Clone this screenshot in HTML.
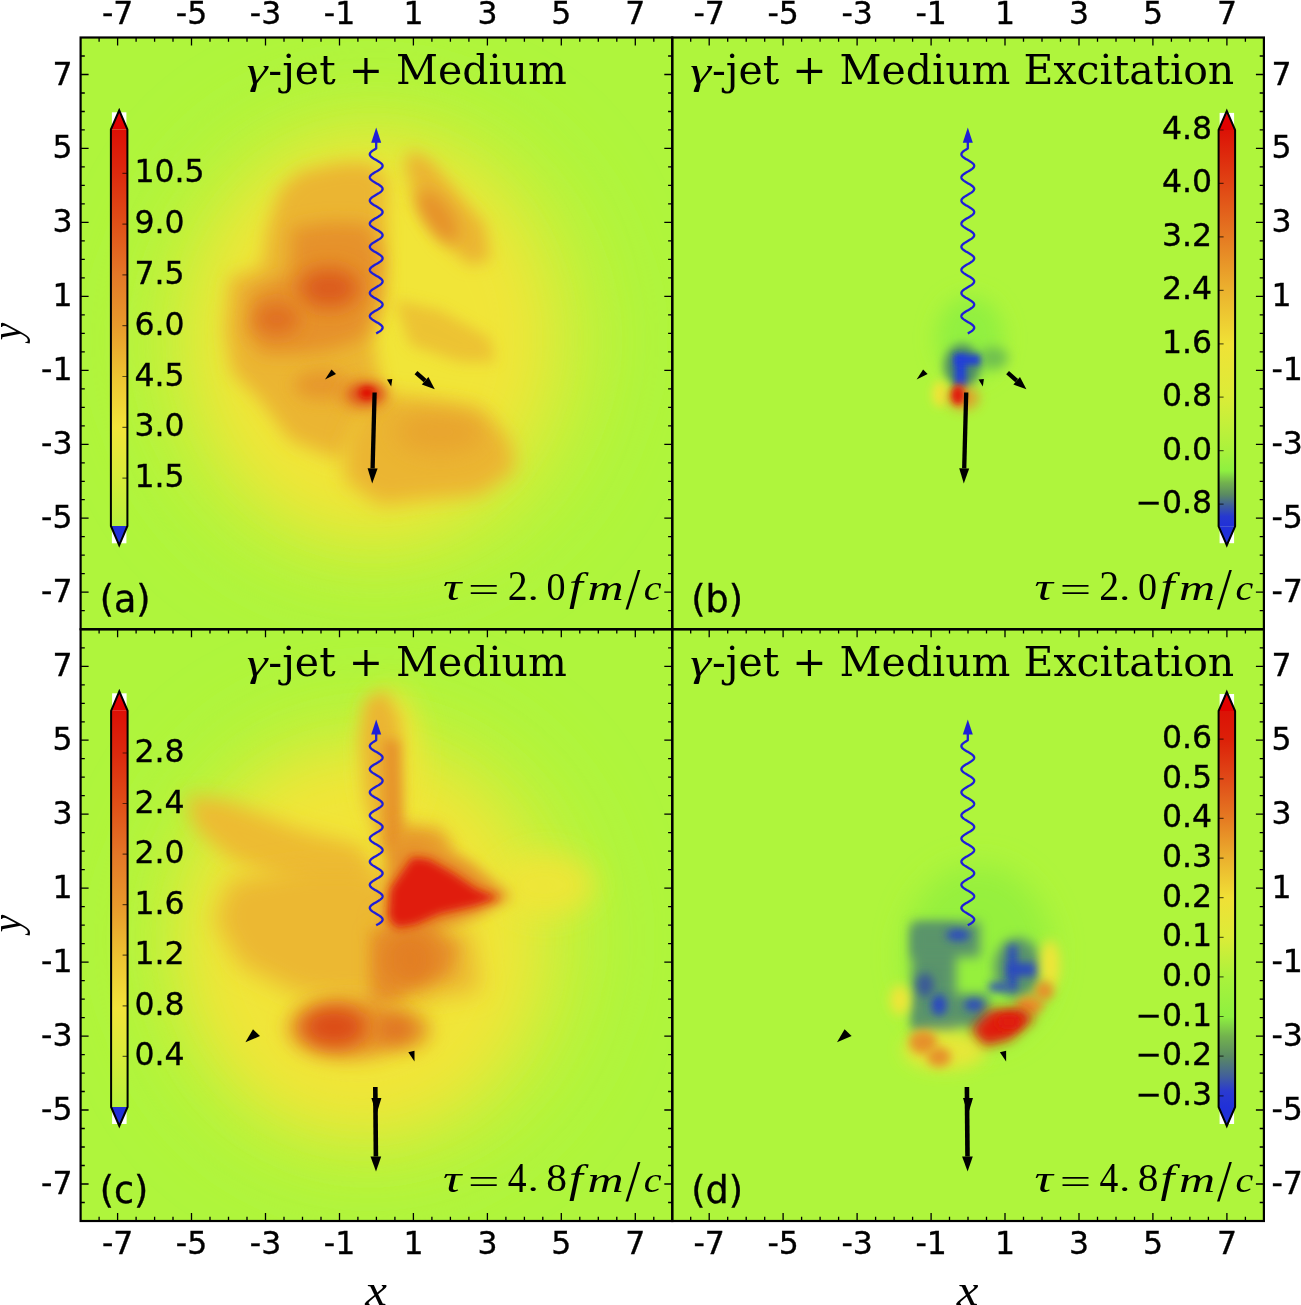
<!DOCTYPE html><html><head><meta charset="utf-8"><style>
html,body{margin:0;padding:0;background:#fff;}
svg{display:block;}
.tk{font-family:"DejaVu Sans","Liberation Sans",sans-serif;font-size:31.5px;fill:#000;stroke:#000;stroke-width:0.35px;}
.ser{font-family:"DejaVu Serif","Liberation Serif",serif;fill:#000;}
.lser{font-family:"Liberation Serif","DejaVu Serif",serif;fill:#000;}
</style></head><body>
<svg width="1301" height="1305" viewBox="0 0 1301 1305">
<rect x="0" y="0" width="1301" height="1305" fill="#fff"/>
<defs>
<clipPath id="clipa"><rect x="80.6" y="37.5" width="591.7" height="591.7"/></clipPath>
<clipPath id="clipb"><rect x="672.2" y="37.5" width="591.7" height="591.7"/></clipPath>
<clipPath id="clipc"><rect x="80.6" y="629.3" width="591.7" height="591.7"/></clipPath>
<clipPath id="clipd"><rect x="672.2" y="629.3" width="591.7" height="591.7"/></clipPath>
<filter id="b1" filterUnits="userSpaceOnUse" x="0" y="0" width="1301" height="1305"><feGaussianBlur stdDeviation="1"/></filter>
<filter id="b2" filterUnits="userSpaceOnUse" x="0" y="0" width="1301" height="1305"><feGaussianBlur stdDeviation="2"/></filter>
<filter id="b3" filterUnits="userSpaceOnUse" x="0" y="0" width="1301" height="1305"><feGaussianBlur stdDeviation="3"/></filter>
<filter id="b4" filterUnits="userSpaceOnUse" x="0" y="0" width="1301" height="1305"><feGaussianBlur stdDeviation="4"/></filter>
<filter id="b5" filterUnits="userSpaceOnUse" x="0" y="0" width="1301" height="1305"><feGaussianBlur stdDeviation="5"/></filter>
<filter id="b6" filterUnits="userSpaceOnUse" x="0" y="0" width="1301" height="1305"><feGaussianBlur stdDeviation="6"/></filter>
<filter id="b7" filterUnits="userSpaceOnUse" x="0" y="0" width="1301" height="1305"><feGaussianBlur stdDeviation="7"/></filter>
<filter id="b8" filterUnits="userSpaceOnUse" x="0" y="0" width="1301" height="1305"><feGaussianBlur stdDeviation="8"/></filter>
<filter id="b9" filterUnits="userSpaceOnUse" x="0" y="0" width="1301" height="1305"><feGaussianBlur stdDeviation="9"/></filter>
<filter id="b10" filterUnits="userSpaceOnUse" x="0" y="0" width="1301" height="1305"><feGaussianBlur stdDeviation="10"/></filter>
<filter id="b11" filterUnits="userSpaceOnUse" x="0" y="0" width="1301" height="1305"><feGaussianBlur stdDeviation="11"/></filter>
<filter id="b12" filterUnits="userSpaceOnUse" x="0" y="0" width="1301" height="1305"><feGaussianBlur stdDeviation="12"/></filter>
<filter id="b13" filterUnits="userSpaceOnUse" x="0" y="0" width="1301" height="1305"><feGaussianBlur stdDeviation="13"/></filter>
<filter id="b14" filterUnits="userSpaceOnUse" x="0" y="0" width="1301" height="1305"><feGaussianBlur stdDeviation="14"/></filter>
<filter id="b15" filterUnits="userSpaceOnUse" x="0" y="0" width="1301" height="1305"><feGaussianBlur stdDeviation="15"/></filter>
<filter id="b16" filterUnits="userSpaceOnUse" x="0" y="0" width="1301" height="1305"><feGaussianBlur stdDeviation="16"/></filter>
<filter id="b17" filterUnits="userSpaceOnUse" x="0" y="0" width="1301" height="1305"><feGaussianBlur stdDeviation="17"/></filter>
<filter id="b18" filterUnits="userSpaceOnUse" x="0" y="0" width="1301" height="1305"><feGaussianBlur stdDeviation="18"/></filter>
<filter id="b19" filterUnits="userSpaceOnUse" x="0" y="0" width="1301" height="1305"><feGaussianBlur stdDeviation="19"/></filter>
<filter id="b20" filterUnits="userSpaceOnUse" x="0" y="0" width="1301" height="1305"><feGaussianBlur stdDeviation="20"/></filter>
<filter id="b21" filterUnits="userSpaceOnUse" x="0" y="0" width="1301" height="1305"><feGaussianBlur stdDeviation="21"/></filter>
<filter id="b22" filterUnits="userSpaceOnUse" x="0" y="0" width="1301" height="1305"><feGaussianBlur stdDeviation="22"/></filter>
<filter id="b23" filterUnits="userSpaceOnUse" x="0" y="0" width="1301" height="1305"><feGaussianBlur stdDeviation="23"/></filter>
<filter id="b24" filterUnits="userSpaceOnUse" x="0" y="0" width="1301" height="1305"><feGaussianBlur stdDeviation="24"/></filter>
<filter id="b25" filterUnits="userSpaceOnUse" x="0" y="0" width="1301" height="1305"><feGaussianBlur stdDeviation="25"/></filter>
<filter id="b26" filterUnits="userSpaceOnUse" x="0" y="0" width="1301" height="1305"><feGaussianBlur stdDeviation="26"/></filter>
<filter id="b27" filterUnits="userSpaceOnUse" x="0" y="0" width="1301" height="1305"><feGaussianBlur stdDeviation="27"/></filter>
<filter id="b28" filterUnits="userSpaceOnUse" x="0" y="0" width="1301" height="1305"><feGaussianBlur stdDeviation="28"/></filter>
<filter id="b29" filterUnits="userSpaceOnUse" x="0" y="0" width="1301" height="1305"><feGaussianBlur stdDeviation="29"/></filter>
<filter id="b30" filterUnits="userSpaceOnUse" x="0" y="0" width="1301" height="1305"><feGaussianBlur stdDeviation="30"/></filter>
<filter id="b31" filterUnits="userSpaceOnUse" x="0" y="0" width="1301" height="1305"><feGaussianBlur stdDeviation="31"/></filter>
<filter id="b32" filterUnits="userSpaceOnUse" x="0" y="0" width="1301" height="1305"><feGaussianBlur stdDeviation="32"/></filter>
<filter id="b33" filterUnits="userSpaceOnUse" x="0" y="0" width="1301" height="1305"><feGaussianBlur stdDeviation="33"/></filter>
<filter id="b34" filterUnits="userSpaceOnUse" x="0" y="0" width="1301" height="1305"><feGaussianBlur stdDeviation="34"/></filter>
<filter id="b35" filterUnits="userSpaceOnUse" x="0" y="0" width="1301" height="1305"><feGaussianBlur stdDeviation="35"/></filter>
<filter id="b36" filterUnits="userSpaceOnUse" x="0" y="0" width="1301" height="1305"><feGaussianBlur stdDeviation="36"/></filter>
<filter id="b37" filterUnits="userSpaceOnUse" x="0" y="0" width="1301" height="1305"><feGaussianBlur stdDeviation="37"/></filter>
<filter id="b38" filterUnits="userSpaceOnUse" x="0" y="0" width="1301" height="1305"><feGaussianBlur stdDeviation="38"/></filter>
<filter id="b39" filterUnits="userSpaceOnUse" x="0" y="0" width="1301" height="1305"><feGaussianBlur stdDeviation="39"/></filter>
<filter id="b40" filterUnits="userSpaceOnUse" x="0" y="0" width="1301" height="1305"><feGaussianBlur stdDeviation="40"/></filter>
<filter id="b41" filterUnits="userSpaceOnUse" x="0" y="0" width="1301" height="1305"><feGaussianBlur stdDeviation="41"/></filter>
<filter id="b42" filterUnits="userSpaceOnUse" x="0" y="0" width="1301" height="1305"><feGaussianBlur stdDeviation="42"/></filter>
<filter id="b43" filterUnits="userSpaceOnUse" x="0" y="0" width="1301" height="1305"><feGaussianBlur stdDeviation="43"/></filter>
<filter id="b44" filterUnits="userSpaceOnUse" x="0" y="0" width="1301" height="1305"><feGaussianBlur stdDeviation="44"/></filter>
<filter id="b45" filterUnits="userSpaceOnUse" x="0" y="0" width="1301" height="1305"><feGaussianBlur stdDeviation="45"/></filter>
<filter id="b46" filterUnits="userSpaceOnUse" x="0" y="0" width="1301" height="1305"><feGaussianBlur stdDeviation="46"/></filter>
<filter id="b47" filterUnits="userSpaceOnUse" x="0" y="0" width="1301" height="1305"><feGaussianBlur stdDeviation="47"/></filter>
<filter id="b48" filterUnits="userSpaceOnUse" x="0" y="0" width="1301" height="1305"><feGaussianBlur stdDeviation="48"/></filter>
<filter id="b49" filterUnits="userSpaceOnUse" x="0" y="0" width="1301" height="1305"><feGaussianBlur stdDeviation="49"/></filter>
<filter id="b50" filterUnits="userSpaceOnUse" x="0" y="0" width="1301" height="1305"><feGaussianBlur stdDeviation="50"/></filter>
<filter id="b51" filterUnits="userSpaceOnUse" x="0" y="0" width="1301" height="1305"><feGaussianBlur stdDeviation="51"/></filter>
<filter id="b52" filterUnits="userSpaceOnUse" x="0" y="0" width="1301" height="1305"><feGaussianBlur stdDeviation="52"/></filter>
<filter id="b53" filterUnits="userSpaceOnUse" x="0" y="0" width="1301" height="1305"><feGaussianBlur stdDeviation="53"/></filter>
<filter id="b54" filterUnits="userSpaceOnUse" x="0" y="0" width="1301" height="1305"><feGaussianBlur stdDeviation="54"/></filter>
<filter id="b55" filterUnits="userSpaceOnUse" x="0" y="0" width="1301" height="1305"><feGaussianBlur stdDeviation="55"/></filter>
<filter id="b56" filterUnits="userSpaceOnUse" x="0" y="0" width="1301" height="1305"><feGaussianBlur stdDeviation="56"/></filter>
<filter id="b57" filterUnits="userSpaceOnUse" x="0" y="0" width="1301" height="1305"><feGaussianBlur stdDeviation="57"/></filter>
<filter id="b58" filterUnits="userSpaceOnUse" x="0" y="0" width="1301" height="1305"><feGaussianBlur stdDeviation="58"/></filter>
<filter id="b59" filterUnits="userSpaceOnUse" x="0" y="0" width="1301" height="1305"><feGaussianBlur stdDeviation="59"/></filter>
<filter id="b60" filterUnits="userSpaceOnUse" x="0" y="0" width="1301" height="1305"><feGaussianBlur stdDeviation="60"/></filter>
<linearGradient id="cbA" x1="0" y1="0" x2="0" y2="1"><stop offset="0" stop-color="#dc1006"/><stop offset="0.11" stop-color="#dc2a0e"/><stop offset="0.238" stop-color="#e05018"/><stop offset="0.366" stop-color="#e47828"/><stop offset="0.494" stop-color="#e89a2c"/><stop offset="0.623" stop-color="#eec432"/><stop offset="0.751" stop-color="#f2e43a"/><stop offset="0.879" stop-color="#d6ec3a"/><stop offset="1" stop-color="#b8f03c"/></linearGradient>
<linearGradient id="cbB" x1="0" y1="0" x2="0" y2="1"><stop offset="0" stop-color="#dc1206"/><stop offset="0.135" stop-color="#e04414"/><stop offset="0.27" stop-color="#e57a22"/><stop offset="0.4" stop-color="#ebb02e"/><stop offset="0.54" stop-color="#f0e236"/><stop offset="0.67" stop-color="#dcec38"/><stop offset="0.74" stop-color="#c4f03a"/><stop offset="0.808" stop-color="#aaf23c"/><stop offset="0.86" stop-color="#8ef040"/><stop offset="0.89" stop-color="#72b24e"/><stop offset="0.92" stop-color="#5a8a62"/><stop offset="0.95" stop-color="#3c5aa0"/><stop offset="0.975" stop-color="#2638d0"/><stop offset="1" stop-color="#2030d8"/></linearGradient>
<linearGradient id="cbC" x1="0" y1="0" x2="0" y2="1"><stop offset="0" stop-color="#dc1006"/><stop offset="0.11" stop-color="#dc2a0e"/><stop offset="0.238" stop-color="#e05018"/><stop offset="0.366" stop-color="#e47828"/><stop offset="0.494" stop-color="#e89a2c"/><stop offset="0.623" stop-color="#eec432"/><stop offset="0.751" stop-color="#f2e43a"/><stop offset="0.879" stop-color="#d6ec3a"/><stop offset="1" stop-color="#b8f03c"/></linearGradient>
<linearGradient id="cbD" x1="0" y1="0" x2="0" y2="1"><stop offset="0" stop-color="#dc1206"/><stop offset="0.071" stop-color="#dc2008"/><stop offset="0.171" stop-color="#e04a18"/><stop offset="0.271" stop-color="#e57a22"/><stop offset="0.371" stop-color="#ebb02e"/><stop offset="0.471" stop-color="#f0e036"/><stop offset="0.571" stop-color="#dcec38"/><stop offset="0.672" stop-color="#aaf23c"/><stop offset="0.772" stop-color="#8ef040"/><stop offset="0.822" stop-color="#72b24e"/><stop offset="0.872" stop-color="#5a8a62"/><stop offset="0.922" stop-color="#42609a"/><stop offset="0.96" stop-color="#2a3ad0"/><stop offset="1" stop-color="#2030d8"/></linearGradient>
</defs>
<g clip-path="url(#clipa)"><rect x="80.6" y="37.5" width="591.7" height="591.7" fill="#aff53c"/><ellipse cx="375" cy="340" rx="230" ry="238" fill="#c4f03b" filter="url(#b40)"/><ellipse cx="375" cy="340" rx="200" ry="212" fill="#d2ee3a" filter="url(#b30)"/><ellipse cx="372" cy="338" rx="168" ry="188" fill="#f1e539" filter="url(#b25)"/><path d="M300 172L340 163L372 163L386 180L385 300L372 340L380 380L362 420L340 460L290 440L260 400L232 372L225 330L230 278L262 268L268 228L280 190Z" fill="#ebb530" filter="url(#b9)"/><path d="M395 300L440 310L490 338L495 362L460 362L410 345Z" fill="#ebb530" filter="url(#b7)" opacity="0.7"/><path d="M370 392L420 398L480 408L510 440L515 470L480 495L420 500L380 505L345 480L345 440Z" fill="#ebb530" filter="url(#b10)"/><path d="M410 150L430 160L485 225L490 260L470 265L440 240L415 200L405 165Z" fill="#ebb530" filter="url(#b8)"/><path d="M292 228L330 222L370 224L382 260L376 300L365 338L330 350L300 354L262 354L246 332L250 292L290 274Z" fill="#e6922a" filter="url(#b9)"/><ellipse cx="438" cy="216" rx="13" ry="30" fill="#e6922a" filter="url(#b8)" transform="rotate(-35 438 216)"/><ellipse cx="440" cy="432" rx="45" ry="22" fill="#e6922a" filter="url(#b12)" opacity="0.45"/><ellipse cx="322" cy="385" rx="28" ry="15" fill="#e6922a" filter="url(#b8)" opacity="0.8"/><ellipse cx="364" cy="395" rx="26" ry="16" fill="#e6922a" filter="url(#b7)"/><ellipse cx="366" cy="394" rx="18" ry="11" fill="#e05a1c" filter="url(#b5)"/><ellipse cx="329" cy="288" rx="30" ry="20" fill="#dc5c1a" filter="url(#b10)"/><ellipse cx="277" cy="319" rx="22" ry="16" fill="#e07020" filter="url(#b9)"/><ellipse cx="367" cy="393" rx="8" ry="6" fill="#e00800" filter="url(#b3)"/></g>
<g clip-path="url(#clipb)"><rect x="672.2" y="37.5" width="591.7" height="591.7" fill="#aff53c"/><ellipse cx="970" cy="338" rx="34" ry="42" fill="#92f040" filter="url(#b10)"/><ellipse cx="993" cy="358" rx="15" ry="11" fill="#70c050" filter="url(#b6)"/><ellipse cx="962" cy="366" rx="18" ry="22" fill="#4e8a66" filter="url(#b5)"/><path d="M955 355L966 355L966 387L955 387Z" fill="#2040d8" filter="url(#b3)"/><path d="M955 355L980 355L980 365L955 365Z" fill="#2040d8" filter="url(#b3)"/><ellipse cx="940" cy="394" rx="8" ry="13" fill="#f1e539" filter="url(#b5)"/><ellipse cx="963" cy="398" rx="16" ry="12" fill="#e6922a" filter="url(#b6)" opacity="0.85"/><ellipse cx="958" cy="395" rx="7" ry="10" fill="#e01a08" filter="url(#b3)"/></g>
<g clip-path="url(#clipc)"><rect x="80.6" y="629.3" width="591.7" height="591.7" fill="#aff53c"/><ellipse cx="370" cy="940" rx="222" ry="232" fill="#c4f03b" filter="url(#b40)"/><ellipse cx="368" cy="940" rx="192" ry="202" fill="#d2ee3a" filter="url(#b30)"/><ellipse cx="362" cy="942" rx="168" ry="182" fill="#f1e539" filter="url(#b25)"/><ellipse cx="392" cy="760" rx="28" ry="70" fill="#f1e539" filter="url(#b14)"/><ellipse cx="545" cy="885" rx="50" ry="32" fill="#f1e539" filter="url(#b14)" opacity="0.9"/><path d="M186 795L225 800L300 830L360 845L375 880L340 900L290 882L230 858L195 828Z" fill="#edbb32" filter="url(#b10)"/><path d="M365 700L385 690L400 720L402 800L398 850L380 850L365 800L360 740Z" fill="#ebb530" filter="url(#b8)"/><path d="M230 880L300 868L370 868L410 900L430 960L420 1000L300 995L240 965L215 920Z" fill="#ecb832" filter="url(#b12)"/><path d="M380 920L470 930L480 990L420 1000Z" fill="#ebb530" filter="url(#b12)"/><path d="M383 740L399 740L402 850L385 850Z" fill="#e6922a" filter="url(#b6)"/><path d="M392 822L440 828L455 850L400 858Z" fill="#e6922a" filter="url(#b8)" opacity="0.8"/><path d="M386 845L415 838L440 845L470 862L512 897L480 915L440 930L420 950L386 955Z" fill="#e6922a" filter="url(#b7)"/><path d="M388 930L430 928L458 945L450 975L400 985Z" fill="#e6922a" filter="url(#b8)"/><path d="M370 930L400 930L405 1000L370 1005Z" fill="#e6922a" filter="url(#b8)"/><ellipse cx="410" cy="960" rx="28" ry="30" fill="#e27a24" filter="url(#b10)" opacity="0.8"/><ellipse cx="350" cy="1028" rx="62" ry="30" fill="#e6922a" filter="url(#b10)"/><ellipse cx="334" cy="1027" rx="32" ry="20" fill="#dc4c16" filter="url(#b10)"/><ellipse cx="405" cy="1030" rx="25" ry="18" fill="#dc5c1a" filter="url(#b10)" opacity="0.6"/><path d="M390 889L412 857L429 859L452 872L477 889L500 898L471 907L440 914L415 925L397 928L388 918Z" fill="#e01a08" filter="url(#b5)"/></g>
<g clip-path="url(#clipd)"><rect x="672.2" y="629.3" width="591.7" height="591.7" fill="#aff53c"/><ellipse cx="978" cy="955" rx="75" ry="90" fill="#96f03e" filter="url(#b14)"/><path d="M912 926L956 926L956 1031L912 1031Z" fill="#5a946a" filter="url(#b6)"/><path d="M912 922L980 922L980 957L912 957Z" fill="#5a946a" filter="url(#b6)"/><path d="M915 994L989 994L989 1028L915 1028Z" fill="#5a946a" filter="url(#b6)"/><ellipse cx="1018" cy="968" rx="24" ry="30" fill="#5a946a" filter="url(#b6)"/><ellipse cx="958" cy="935" rx="12" ry="6" fill="#2a48c0" filter="url(#b4)"/><ellipse cx="939" cy="1005" rx="8" ry="11" fill="#2a48c0" filter="url(#b4)"/><ellipse cx="974" cy="1005" rx="10" ry="6" fill="#2a48c0" filter="url(#b4)"/><ellipse cx="925" cy="985" rx="9" ry="12" fill="#3a5a98" filter="url(#b5)"/><path d="M1008 945L1017 945L1017 991L1008 991Z" fill="#2a48c0" filter="url(#b4)"/><path d="M1008 963L1037 963L1037 976L1008 976Z" fill="#2a48c0" filter="url(#b4)"/><path d="M989 983L1008 983L1008 991L989 991Z" fill="#2a48c0" filter="url(#b4)"/><ellipse cx="900" cy="1000" rx="10" ry="15" fill="#f1e539" filter="url(#b6)"/><ellipse cx="1050" cy="965" rx="10" ry="25" fill="#f1e539" filter="url(#b6)"/><ellipse cx="945" cy="1050" rx="42" ry="20" fill="#f1e539" filter="url(#b8)" opacity="0.85"/><ellipse cx="923" cy="1042" rx="14" ry="12" fill="#e6922a" filter="url(#b5)"/><ellipse cx="939" cy="1057" rx="12" ry="10" fill="#e6922a" filter="url(#b5)"/><ellipse cx="1030" cy="1005" rx="14" ry="10" fill="#e6922a" filter="url(#b5)"/><ellipse cx="1044" cy="991" rx="10" ry="10" fill="#e6922a" filter="url(#b5)"/><path d="M971 1030L990 1010L1020 1008L1035 1018L1010 1040L985 1046Z" fill="#e01a08" filter="url(#b6)"/><ellipse cx="1009" cy="1022" rx="12" ry="8" fill="#e01a08" filter="url(#b4)"/></g>
<path d="M99.1 37.5v4.2M80.6 610.7h4.2M672.3 610.7h-4.2M117.6 37.5v8M80.6 592.2h8M672.3 592.2h-8M136.1 37.5v4.2M80.6 573.7h4.2M672.3 573.7h-4.2M154.6 37.5v4.2M80.6 555.2h4.2M672.3 555.2h-4.2M173.0 37.5v4.2M80.6 536.7h4.2M672.3 536.7h-4.2M191.5 37.5v8M80.6 518.2h8M672.3 518.2h-8M210.0 37.5v4.2M80.6 499.7h4.2M672.3 499.7h-4.2M228.5 37.5v4.2M80.6 481.3h4.2M672.3 481.3h-4.2M247.0 37.5v4.2M80.6 462.8h4.2M672.3 462.8h-4.2M265.5 37.5v8M80.6 444.3h8M672.3 444.3h-8M284.0 37.5v4.2M80.6 425.8h4.2M672.3 425.8h-4.2M302.5 37.5v4.2M80.6 407.3h4.2M672.3 407.3h-4.2M321.0 37.5v4.2M80.6 388.8h4.2M672.3 388.8h-4.2M339.5 37.5v8M80.6 370.3h8M672.3 370.3h-8M357.9 37.5v4.2M80.6 351.8h4.2M672.3 351.8h-4.2M376.4 37.5v4.2M80.6 333.3h4.2M672.3 333.3h-4.2M394.9 37.5v4.2M80.6 314.8h4.2M672.3 314.8h-4.2M413.4 37.5v8M80.6 296.4h8M672.3 296.4h-8M431.9 37.5v4.2M80.6 277.9h4.2M672.3 277.9h-4.2M450.4 37.5v4.2M80.6 259.4h4.2M672.3 259.4h-4.2M468.9 37.5v4.2M80.6 240.9h4.2M672.3 240.9h-4.2M487.4 37.5v8M80.6 222.4h8M672.3 222.4h-8M505.9 37.5v4.2M80.6 203.9h4.2M672.3 203.9h-4.2M524.4 37.5v4.2M80.6 185.4h4.2M672.3 185.4h-4.2M542.8 37.5v4.2M80.6 166.9h4.2M672.3 166.9h-4.2M561.3 37.5v8M80.6 148.4h8M672.3 148.4h-8M579.8 37.5v4.2M80.6 129.9h4.2M672.3 129.9h-4.2M598.3 37.5v4.2M80.6 111.5h4.2M672.3 111.5h-4.2M616.8 37.5v4.2M80.6 93.0h4.2M672.3 93.0h-4.2M635.3 37.5v8M80.6 74.5h8M672.3 74.5h-8M653.8 37.5v4.2M80.6 56.0h4.2M672.3 56.0h-4.2" stroke="#000" stroke-width="1.3" fill="none"/>
<path d="M690.7 37.5v4.2M1263.9 610.7h-4.2M709.2 37.5v8M1263.9 592.2h-8M727.7 37.5v4.2M1263.9 573.7h-4.2M746.2 37.5v4.2M1263.9 555.2h-4.2M764.7 37.5v4.2M1263.9 536.7h-4.2M783.1 37.5v8M1263.9 518.2h-8M801.6 37.5v4.2M1263.9 499.7h-4.2M820.1 37.5v4.2M1263.9 481.3h-4.2M838.6 37.5v4.2M1263.9 462.8h-4.2M857.1 37.5v8M1263.9 444.3h-8M875.6 37.5v4.2M1263.9 425.8h-4.2M894.1 37.5v4.2M1263.9 407.3h-4.2M912.6 37.5v4.2M1263.9 388.8h-4.2M931.1 37.5v8M1263.9 370.3h-8M949.5 37.5v4.2M1263.9 351.8h-4.2M968.0 37.5v4.2M1263.9 333.3h-4.2M986.5 37.5v4.2M1263.9 314.8h-4.2M1005.0 37.5v8M1263.9 296.4h-8M1023.5 37.5v4.2M1263.9 277.9h-4.2M1042.0 37.5v4.2M1263.9 259.4h-4.2M1060.5 37.5v4.2M1263.9 240.9h-4.2M1079.0 37.5v8M1263.9 222.4h-8M1097.5 37.5v4.2M1263.9 203.9h-4.2M1116.0 37.5v4.2M1263.9 185.4h-4.2M1134.5 37.5v4.2M1263.9 166.9h-4.2M1152.9 37.5v8M1263.9 148.4h-8M1171.4 37.5v4.2M1263.9 129.9h-4.2M1189.9 37.5v4.2M1263.9 111.5h-4.2M1208.4 37.5v4.2M1263.9 93.0h-4.2M1226.9 37.5v8M1263.9 74.5h-8M1245.4 37.5v4.2M1263.9 56.0h-4.2" stroke="#000" stroke-width="1.3" fill="none"/>
<path d="M99.1 629.3v4.2M99.1 1221.0v-4.2M80.6 1202.5h4.2M672.3 1202.5h-4.2M117.6 629.3v8M117.6 1221.0v-8M80.6 1184.0h8M672.3 1184.0h-8M136.1 629.3v4.2M136.1 1221.0v-4.2M80.6 1165.5h4.2M672.3 1165.5h-4.2M154.6 629.3v4.2M154.6 1221.0v-4.2M80.6 1147.0h4.2M672.3 1147.0h-4.2M173.0 629.3v4.2M173.0 1221.0v-4.2M80.6 1128.5h4.2M672.3 1128.5h-4.2M191.5 629.3v8M191.5 1221.0v-8M80.6 1110.0h8M672.3 1110.0h-8M210.0 629.3v4.2M210.0 1221.0v-4.2M80.6 1091.5h4.2M672.3 1091.5h-4.2M228.5 629.3v4.2M228.5 1221.0v-4.2M80.6 1073.1h4.2M672.3 1073.1h-4.2M247.0 629.3v4.2M247.0 1221.0v-4.2M80.6 1054.6h4.2M672.3 1054.6h-4.2M265.5 629.3v8M265.5 1221.0v-8M80.6 1036.1h8M672.3 1036.1h-8M284.0 629.3v4.2M284.0 1221.0v-4.2M80.6 1017.6h4.2M672.3 1017.6h-4.2M302.5 629.3v4.2M302.5 1221.0v-4.2M80.6 999.1h4.2M672.3 999.1h-4.2M321.0 629.3v4.2M321.0 1221.0v-4.2M80.6 980.6h4.2M672.3 980.6h-4.2M339.5 629.3v8M339.5 1221.0v-8M80.6 962.1h8M672.3 962.1h-8M357.9 629.3v4.2M357.9 1221.0v-4.2M80.6 943.6h4.2M672.3 943.6h-4.2M376.4 629.3v4.2M376.4 1221.0v-4.2M80.6 925.1h4.2M672.3 925.1h-4.2M394.9 629.3v4.2M394.9 1221.0v-4.2M80.6 906.6h4.2M672.3 906.6h-4.2M413.4 629.3v8M413.4 1221.0v-8M80.6 888.2h8M672.3 888.2h-8M431.9 629.3v4.2M431.9 1221.0v-4.2M80.6 869.7h4.2M672.3 869.7h-4.2M450.4 629.3v4.2M450.4 1221.0v-4.2M80.6 851.2h4.2M672.3 851.2h-4.2M468.9 629.3v4.2M468.9 1221.0v-4.2M80.6 832.7h4.2M672.3 832.7h-4.2M487.4 629.3v8M487.4 1221.0v-8M80.6 814.2h8M672.3 814.2h-8M505.9 629.3v4.2M505.9 1221.0v-4.2M80.6 795.7h4.2M672.3 795.7h-4.2M524.4 629.3v4.2M524.4 1221.0v-4.2M80.6 777.2h4.2M672.3 777.2h-4.2M542.8 629.3v4.2M542.8 1221.0v-4.2M80.6 758.7h4.2M672.3 758.7h-4.2M561.3 629.3v8M561.3 1221.0v-8M80.6 740.2h8M672.3 740.2h-8M579.8 629.3v4.2M579.8 1221.0v-4.2M80.6 721.8h4.2M672.3 721.8h-4.2M598.3 629.3v4.2M598.3 1221.0v-4.2M80.6 703.3h4.2M672.3 703.3h-4.2M616.8 629.3v4.2M616.8 1221.0v-4.2M80.6 684.8h4.2M672.3 684.8h-4.2M635.3 629.3v8M635.3 1221.0v-8M80.6 666.3h8M672.3 666.3h-8M653.8 629.3v4.2M653.8 1221.0v-4.2M80.6 647.8h4.2M672.3 647.8h-4.2" stroke="#000" stroke-width="1.3" fill="none"/>
<path d="M690.7 629.3v4.2M690.7 1221.0v-4.2M1263.9 1202.5h-4.2M709.2 629.3v8M709.2 1221.0v-8M1263.9 1184.0h-8M727.7 629.3v4.2M727.7 1221.0v-4.2M1263.9 1165.5h-4.2M746.2 629.3v4.2M746.2 1221.0v-4.2M1263.9 1147.0h-4.2M764.7 629.3v4.2M764.7 1221.0v-4.2M1263.9 1128.5h-4.2M783.1 629.3v8M783.1 1221.0v-8M1263.9 1110.0h-8M801.6 629.3v4.2M801.6 1221.0v-4.2M1263.9 1091.5h-4.2M820.1 629.3v4.2M820.1 1221.0v-4.2M1263.9 1073.1h-4.2M838.6 629.3v4.2M838.6 1221.0v-4.2M1263.9 1054.6h-4.2M857.1 629.3v8M857.1 1221.0v-8M1263.9 1036.1h-8M875.6 629.3v4.2M875.6 1221.0v-4.2M1263.9 1017.6h-4.2M894.1 629.3v4.2M894.1 1221.0v-4.2M1263.9 999.1h-4.2M912.6 629.3v4.2M912.6 1221.0v-4.2M1263.9 980.6h-4.2M931.1 629.3v8M931.1 1221.0v-8M1263.9 962.1h-8M949.5 629.3v4.2M949.5 1221.0v-4.2M1263.9 943.6h-4.2M968.0 629.3v4.2M968.0 1221.0v-4.2M1263.9 925.1h-4.2M986.5 629.3v4.2M986.5 1221.0v-4.2M1263.9 906.6h-4.2M1005.0 629.3v8M1005.0 1221.0v-8M1263.9 888.2h-8M1023.5 629.3v4.2M1023.5 1221.0v-4.2M1263.9 869.7h-4.2M1042.0 629.3v4.2M1042.0 1221.0v-4.2M1263.9 851.2h-4.2M1060.5 629.3v4.2M1060.5 1221.0v-4.2M1263.9 832.7h-4.2M1079.0 629.3v8M1079.0 1221.0v-8M1263.9 814.2h-8M1097.5 629.3v4.2M1097.5 1221.0v-4.2M1263.9 795.7h-4.2M1116.0 629.3v4.2M1116.0 1221.0v-4.2M1263.9 777.2h-4.2M1134.5 629.3v4.2M1134.5 1221.0v-4.2M1263.9 758.7h-4.2M1152.9 629.3v8M1152.9 1221.0v-8M1263.9 740.2h-8M1171.4 629.3v4.2M1171.4 1221.0v-4.2M1263.9 721.8h-4.2M1189.9 629.3v4.2M1189.9 1221.0v-4.2M1263.9 703.3h-4.2M1208.4 629.3v4.2M1208.4 1221.0v-4.2M1263.9 684.8h-4.2M1226.9 629.3v8M1226.9 1221.0v-8M1263.9 666.3h-8M1245.4 629.3v4.2M1245.4 1221.0v-4.2M1263.9 647.8h-4.2" stroke="#000" stroke-width="1.3" fill="none"/>
<rect x="80.6" y="37.5" width="591.7" height="591.7" fill="none" stroke="#000" stroke-width="2.2"/>
<rect x="672.2" y="37.5" width="591.7" height="591.7" fill="none" stroke="#000" stroke-width="2.2"/>
<rect x="80.6" y="629.3" width="591.7" height="591.7" fill="none" stroke="#000" stroke-width="2.2"/>
<rect x="672.2" y="629.3" width="591.7" height="591.7" fill="none" stroke="#000" stroke-width="2.2"/>
<text class="tk" x="117.6" y="23.5" text-anchor="middle">-7</text>
<text class="tk" x="191.5" y="23.5" text-anchor="middle">-5</text>
<text class="tk" x="265.5" y="23.5" text-anchor="middle">-3</text>
<text class="tk" x="339.5" y="23.5" text-anchor="middle">-1</text>
<text class="tk" x="413.4" y="23.5" text-anchor="middle">1</text>
<text class="tk" x="487.4" y="23.5" text-anchor="middle">3</text>
<text class="tk" x="561.3" y="23.5" text-anchor="middle">5</text>
<text class="tk" x="635.3" y="23.5" text-anchor="middle">7</text>
<text class="tk" x="709.2" y="23.5" text-anchor="middle">-7</text>
<text class="tk" x="783.1" y="23.5" text-anchor="middle">-5</text>
<text class="tk" x="857.1" y="23.5" text-anchor="middle">-3</text>
<text class="tk" x="931.1" y="23.5" text-anchor="middle">-1</text>
<text class="tk" x="1005.0" y="23.5" text-anchor="middle">1</text>
<text class="tk" x="1079.0" y="23.5" text-anchor="middle">3</text>
<text class="tk" x="1152.9" y="23.5" text-anchor="middle">5</text>
<text class="tk" x="1226.9" y="23.5" text-anchor="middle">7</text>
<text class="tk" x="117.6" y="1254" text-anchor="middle">-7</text>
<text class="tk" x="191.5" y="1254" text-anchor="middle">-5</text>
<text class="tk" x="265.5" y="1254" text-anchor="middle">-3</text>
<text class="tk" x="339.5" y="1254" text-anchor="middle">-1</text>
<text class="tk" x="413.4" y="1254" text-anchor="middle">1</text>
<text class="tk" x="487.4" y="1254" text-anchor="middle">3</text>
<text class="tk" x="561.3" y="1254" text-anchor="middle">5</text>
<text class="tk" x="635.3" y="1254" text-anchor="middle">7</text>
<text class="tk" x="709.2" y="1254" text-anchor="middle">-7</text>
<text class="tk" x="783.1" y="1254" text-anchor="middle">-5</text>
<text class="tk" x="857.1" y="1254" text-anchor="middle">-3</text>
<text class="tk" x="931.1" y="1254" text-anchor="middle">-1</text>
<text class="tk" x="1005.0" y="1254" text-anchor="middle">1</text>
<text class="tk" x="1079.0" y="1254" text-anchor="middle">3</text>
<text class="tk" x="1152.9" y="1254" text-anchor="middle">5</text>
<text class="tk" x="1226.9" y="1254" text-anchor="middle">7</text>
<text class="tk" x="72.5" y="602.2" text-anchor="end">-7</text>
<text class="tk" x="72.5" y="528.2" text-anchor="end">-5</text>
<text class="tk" x="72.5" y="454.3" text-anchor="end">-3</text>
<text class="tk" x="72.5" y="380.3" text-anchor="end">-1</text>
<text class="tk" x="72.5" y="306.4" text-anchor="end">1</text>
<text class="tk" x="72.5" y="232.4" text-anchor="end">3</text>
<text class="tk" x="72.5" y="158.4" text-anchor="end">5</text>
<text class="tk" x="72.5" y="84.5" text-anchor="end">7</text>
<text class="tk" x="72.5" y="1194.0" text-anchor="end">-7</text>
<text class="tk" x="72.5" y="1120.0" text-anchor="end">-5</text>
<text class="tk" x="72.5" y="1046.1" text-anchor="end">-3</text>
<text class="tk" x="72.5" y="972.1" text-anchor="end">-1</text>
<text class="tk" x="72.5" y="898.2" text-anchor="end">1</text>
<text class="tk" x="72.5" y="824.2" text-anchor="end">3</text>
<text class="tk" x="72.5" y="750.2" text-anchor="end">5</text>
<text class="tk" x="72.5" y="676.3" text-anchor="end">7</text>
<text class="tk" x="1271.5" y="602.2">-7</text>
<text class="tk" x="1271.5" y="528.2">-5</text>
<text class="tk" x="1271.5" y="454.3">-3</text>
<text class="tk" x="1271.5" y="380.3">-1</text>
<text class="tk" x="1271.5" y="306.4">1</text>
<text class="tk" x="1271.5" y="232.4">3</text>
<text class="tk" x="1271.5" y="158.4">5</text>
<text class="tk" x="1271.5" y="84.5">7</text>
<text class="tk" x="1271.5" y="1194.0">-7</text>
<text class="tk" x="1271.5" y="1120.0">-5</text>
<text class="tk" x="1271.5" y="1046.1">-3</text>
<text class="tk" x="1271.5" y="972.1">-1</text>
<text class="tk" x="1271.5" y="898.2">1</text>
<text class="tk" x="1271.5" y="824.2">3</text>
<text class="tk" x="1271.5" y="750.2">5</text>
<text class="tk" x="1271.5" y="676.3">7</text>
<text class="tk" style="font-size:36.5px" x="99.7" y="611.5">(a)</text>
<text class="tk" style="font-size:36.5px" x="691.3" y="611.5">(b)</text>
<text class="tk" style="font-size:36.5px" x="99.7" y="1203.3">(c)</text>
<text class="tk" style="font-size:36.5px" x="691.3" y="1203.3">(d)</text>
<g transform="translate(0.0 0.0)"><text class="lser" style="font-size:40px" transform="translate(442.97 599.83) scale(1.284 0.926)" font-style="italic">τ</text><text class="lser" style="font-size:40px" transform="translate(468.11 602.23) scale(1.394 0.920)">=</text><text class="lser" style="font-size:40px" transform="translate(507.71 600.20) scale(0.994 1.054)">2</text><text class="lser" style="font-size:40px" transform="translate(527.75 599.68) scale(1.091 0.792)">.</text><text class="lser" style="font-size:40px" transform="translate(546.48 599.68) scale(0.952 1.026)">0</text><text class="lser" style="font-size:40px" transform="translate(569.00 599.78) scale(1.250 0.978)" font-style="italic">f</text><text class="lser" style="font-size:40px" transform="translate(587.50 600.00) scale(1.250 0.904)" font-style="italic">m</text><text class="lser" style="font-size:40px" transform="translate(625.50 608.90) scale(1.339 1.496)">/</text><text class="lser" style="font-size:40px" transform="translate(643.80 600.14) scale(1.000 0.911)" font-style="italic">c</text></g>
<g transform="translate(591.6 0.0)"><text class="lser" style="font-size:40px" transform="translate(442.97 599.83) scale(1.284 0.926)" font-style="italic">τ</text><text class="lser" style="font-size:40px" transform="translate(468.11 602.23) scale(1.394 0.920)">=</text><text class="lser" style="font-size:40px" transform="translate(507.71 600.20) scale(0.994 1.054)">2</text><text class="lser" style="font-size:40px" transform="translate(527.75 599.68) scale(1.091 0.792)">.</text><text class="lser" style="font-size:40px" transform="translate(546.48 599.68) scale(0.952 1.026)">0</text><text class="lser" style="font-size:40px" transform="translate(569.00 599.78) scale(1.250 0.978)" font-style="italic">f</text><text class="lser" style="font-size:40px" transform="translate(587.50 600.00) scale(1.250 0.904)" font-style="italic">m</text><text class="lser" style="font-size:40px" transform="translate(625.50 608.90) scale(1.339 1.496)">/</text><text class="lser" style="font-size:40px" transform="translate(643.80 600.14) scale(1.000 0.911)" font-style="italic">c</text></g>
<g transform="translate(0.0 591.8)"><text class="lser" style="font-size:40px" transform="translate(442.97 599.83) scale(1.284 0.926)" font-style="italic">τ</text><text class="lser" style="font-size:40px" transform="translate(468.11 602.23) scale(1.394 0.920)">=</text><text class="lser" style="font-size:40px" transform="translate(507.85 600.20) scale(0.940 1.046)">4</text><text class="lser" style="font-size:40px" transform="translate(527.75 599.68) scale(1.091 0.792)">.</text><text class="lser" style="font-size:40px" transform="translate(546.24 599.68) scale(1.036 1.026)">8</text><text class="lser" style="font-size:40px" transform="translate(569.00 599.78) scale(1.250 0.978)" font-style="italic">f</text><text class="lser" style="font-size:40px" transform="translate(587.50 600.00) scale(1.250 0.904)" font-style="italic">m</text><text class="lser" style="font-size:40px" transform="translate(625.50 608.90) scale(1.339 1.496)">/</text><text class="lser" style="font-size:40px" transform="translate(643.80 600.14) scale(1.000 0.911)" font-style="italic">c</text></g>
<g transform="translate(591.6 591.8)"><text class="lser" style="font-size:40px" transform="translate(442.97 599.83) scale(1.284 0.926)" font-style="italic">τ</text><text class="lser" style="font-size:40px" transform="translate(468.11 602.23) scale(1.394 0.920)">=</text><text class="lser" style="font-size:40px" transform="translate(507.85 600.20) scale(0.940 1.046)">4</text><text class="lser" style="font-size:40px" transform="translate(527.75 599.68) scale(1.091 0.792)">.</text><text class="lser" style="font-size:40px" transform="translate(546.24 599.68) scale(1.036 1.026)">8</text><text class="lser" style="font-size:40px" transform="translate(569.00 599.78) scale(1.250 0.978)" font-style="italic">f</text><text class="lser" style="font-size:40px" transform="translate(587.50 600.00) scale(1.250 0.904)" font-style="italic">m</text><text class="lser" style="font-size:40px" transform="translate(625.50 608.90) scale(1.339 1.496)">/</text><text class="lser" style="font-size:40px" transform="translate(643.80 600.14) scale(1.000 0.911)" font-style="italic">c</text></g>
<text class="lser" style="font-size:44px" transform="translate(20.89 340.36) rotate(-90) scale(0.892 1.007)" font-style="italic">y</text>
<text class="lser" style="font-size:44px" transform="translate(20.89 932.16) rotate(-90) scale(0.892 1.007)" font-style="italic">y</text>
<g transform="translate(0 0.0)"><text class="lser" style="font-size:41px" transform="translate(246.84 83.72) scale(1.287 0.950)" font-style="italic">γ</text><text class="ser" style="font-size:41px" x="268.3" y="84.3">-jet + Medium</text></g>
<g transform="translate(0 0.0)"><text class="lser" style="font-size:41px" transform="translate(690.25 84.05) scale(1.287 0.946)" font-style="italic">γ</text><text class="ser" style="font-size:41px" x="711.9" y="84.3">-jet + Medium Excitation</text></g>
<g transform="translate(0 591.8)"><text class="lser" style="font-size:41px" transform="translate(246.84 83.72) scale(1.287 0.950)" font-style="italic">γ</text><text class="ser" style="font-size:41px" x="268.3" y="84.3">-jet + Medium</text></g>
<g transform="translate(0 591.8)"><text class="lser" style="font-size:41px" transform="translate(690.25 84.05) scale(1.287 0.946)" font-style="italic">γ</text><text class="ser" style="font-size:41px" x="711.9" y="84.3">-jet + Medium Excitation</text></g>
<text class="lser" style="font-size:44px" transform="translate(365.19 1304.50) scale(1.111 1.023)" font-style="italic">x</text>
<text class="lser" style="font-size:44px" transform="translate(956.79 1304.50) scale(1.111 1.023)" font-style="italic">x</text>
<rect x="111.9" y="112.3" width="14.5" height="17.2" fill="#fff"/><rect x="111.9" y="526.0" width="14.5" height="17.3" fill="#fff"/><path d="M110.9 129.5L119.2 110.3L127.4 129.5Z" fill="#e00000"/><path d="M110.9 526.0L119.2 545.3L127.4 526.0Z" fill="#2030d8"/><rect x="110.9" y="129.5" width="16.5" height="396.5" fill="url(#cbA)"/><path d="M127.4 173.3h-5M127.4 224.1h-5M127.4 274.9h-5M127.4 325.7h-5M127.4 376.5h-5M127.4 427.3h-5M127.4 478.1h-5" stroke="#000" stroke-width="1.2" opacity="0.6"/><path d="M110.9 129.5L119.2 110.3L127.4 129.5L127.4 526.0L119.2 545.3L110.9 526.0Z" fill="none" stroke="#000" stroke-width="2"/><text class="tk" x="134.5" y="182.3" text-anchor="start">10.5</text><text class="tk" x="134.5" y="233.1" text-anchor="start">9.0</text><text class="tk" x="134.5" y="283.9" text-anchor="start">7.5</text><text class="tk" x="134.5" y="334.7" text-anchor="start">6.0</text><text class="tk" x="134.5" y="385.5" text-anchor="start">4.5</text><text class="tk" x="134.5" y="436.3" text-anchor="start">3.0</text><text class="tk" x="134.5" y="487.1" text-anchor="start">1.5</text>
<rect x="1219.6" y="112.9" width="14.5" height="17.1" fill="#fff"/><rect x="1219.6" y="526.3" width="14.5" height="16.9" fill="#fff"/><path d="M1218.6 130.0L1226.8 110.9L1235.1 130.0Z" fill="#e00000"/><path d="M1218.6 526.3L1226.8 545.2L1235.1 526.3Z" fill="#2030d8"/><rect x="1218.6" y="130.0" width="16.5" height="396.3" fill="url(#cbB)"/><path d="M1218.6 130.0h5M1218.6 183.4h5M1218.6 236.9h5M1218.6 290.4h5M1218.6 343.8h5M1218.6 397.2h5M1218.6 450.7h5M1218.6 504.2h5" stroke="#000" stroke-width="1.2" opacity="0.6"/><path d="M1218.6 130.0L1226.8 110.9L1235.1 130.0L1235.1 526.3L1226.8 545.2L1218.6 526.3Z" fill="none" stroke="#000" stroke-width="2"/><text class="tk" x="1212.0" y="139.0" text-anchor="end">4.8</text><text class="tk" x="1212.0" y="192.4" text-anchor="end">4.0</text><text class="tk" x="1212.0" y="245.9" text-anchor="end">3.2</text><text class="tk" x="1212.0" y="299.4" text-anchor="end">2.4</text><text class="tk" x="1212.0" y="352.8" text-anchor="end">1.6</text><text class="tk" x="1212.0" y="406.2" text-anchor="end">0.8</text><text class="tk" x="1212.0" y="459.7" text-anchor="end">0.0</text><text class="tk" x="1212.0" y="513.2" text-anchor="end">−0.8</text>
<rect x="112.1" y="693.3" width="14.5" height="17.5" fill="#fff"/><rect x="112.1" y="1107.0" width="14.5" height="17.0" fill="#fff"/><path d="M111.1 710.8L119.3 691.3L127.6 710.8Z" fill="#e00000"/><path d="M111.1 1107.0L119.3 1126.0L127.6 1107.0Z" fill="#2030d8"/><rect x="111.1" y="710.8" width="16.5" height="396.2" fill="url(#cbC)"/><path d="M127.6 753.0h-5M127.6 803.5h-5M127.6 854.1h-5M127.6 904.6h-5M127.6 955.2h-5M127.6 1005.8h-5M127.6 1056.3h-5" stroke="#000" stroke-width="1.2" opacity="0.6"/><path d="M111.1 710.8L119.3 691.3L127.6 710.8L127.6 1107.0L119.3 1126.0L111.1 1107.0Z" fill="none" stroke="#000" stroke-width="2"/><text class="tk" x="134.5" y="762.0" text-anchor="start">2.8</text><text class="tk" x="134.5" y="812.5" text-anchor="start">2.4</text><text class="tk" x="134.5" y="863.1" text-anchor="start">2.0</text><text class="tk" x="134.5" y="913.6" text-anchor="start">1.6</text><text class="tk" x="134.5" y="964.2" text-anchor="start">1.2</text><text class="tk" x="134.5" y="1014.8" text-anchor="start">0.8</text><text class="tk" x="134.5" y="1065.3" text-anchor="start">0.4</text>
<rect x="1219.6" y="694.0" width="14.5" height="17.0" fill="#fff"/><rect x="1219.6" y="1107.0" width="14.5" height="17.0" fill="#fff"/><path d="M1218.6 711.0L1226.8 692.0L1235.1 711.0Z" fill="#e00000"/><path d="M1218.6 1107.0L1226.8 1126.0L1235.1 1107.0Z" fill="#2030d8"/><rect x="1218.6" y="711.0" width="16.5" height="396.0" fill="url(#cbD)"/><path d="M1218.6 739.2h5M1218.6 778.8h5M1218.6 818.4h5M1218.6 858.1h5M1218.6 897.7h5M1218.6 937.3h5M1218.6 976.9h5M1218.6 1016.5h5M1218.6 1056.2h5M1218.6 1095.8h5" stroke="#000" stroke-width="1.2" opacity="0.6"/><path d="M1218.6 711.0L1226.8 692.0L1235.1 711.0L1235.1 1107.0L1226.8 1126.0L1218.6 1107.0Z" fill="none" stroke="#000" stroke-width="2"/><text class="tk" x="1212.0" y="748.2" text-anchor="end">0.6</text><text class="tk" x="1212.0" y="787.8" text-anchor="end">0.5</text><text class="tk" x="1212.0" y="827.4" text-anchor="end">0.4</text><text class="tk" x="1212.0" y="867.1" text-anchor="end">0.3</text><text class="tk" x="1212.0" y="906.7" text-anchor="end">0.2</text><text class="tk" x="1212.0" y="946.3" text-anchor="end">0.1</text><text class="tk" x="1212.0" y="985.9" text-anchor="end">0.0</text><text class="tk" x="1212.0" y="1025.5" text-anchor="end">−0.1</text><text class="tk" x="1212.0" y="1065.2" text-anchor="end">−0.2</text><text class="tk" x="1212.0" y="1104.8" text-anchor="end">−0.3</text>
<path d="M376.20 333.50 L377.00 333.04 L377.79 332.57 L378.56 332.11 L379.28 331.65 L379.96 331.19 L380.58 330.73 L381.13 330.26 L381.60 329.80 L381.99 329.34 L382.29 328.88 L382.49 328.41 L382.59 327.95 L382.59 327.49 L382.49 327.02 L382.29 326.56 L381.99 326.10 L381.60 325.64 L381.13 325.18 L380.58 324.71 L379.96 324.25 L379.28 323.79 L378.56 323.32 L377.79 322.86 L377.00 322.40 L376.20 321.94 L375.40 321.48 L374.61 321.01 L373.84 320.55 L373.12 320.09 L372.44 319.62 L371.82 319.16 L371.27 318.70 L370.80 318.24 L370.41 317.77 L370.11 317.31 L369.91 316.85 L369.81 316.39 L369.81 315.93 L369.91 315.46 L370.11 315.00 L370.41 314.54 L370.80 314.07 L371.27 313.61 L371.82 313.15 L372.44 312.69 L373.12 312.23 L373.84 311.76 L374.61 311.30 L375.40 310.84 L376.20 310.38 L377.00 309.91 L377.79 309.45 L378.56 308.99 L379.28 308.52 L379.96 308.06 L380.58 307.60 L381.13 307.14 L381.60 306.68 L381.99 306.21 L382.29 305.75 L382.49 305.29 L382.59 304.82 L382.59 304.36 L382.49 303.90 L382.29 303.44 L381.99 302.98 L381.60 302.51 L381.13 302.05 L380.58 301.59 L379.96 301.12 L379.28 300.66 L378.56 300.20 L377.79 299.74 L377.00 299.27 L376.20 298.81 L375.40 298.35 L374.61 297.89 L373.84 297.43 L373.12 296.96 L372.44 296.50 L371.82 296.04 L371.27 295.57 L370.80 295.11 L370.41 294.65 L370.11 294.19 L369.91 293.73 L369.81 293.26 L369.81 292.80 L369.91 292.34 L370.11 291.88 L370.41 291.41 L370.80 290.95 L371.27 290.49 L371.82 290.02 L372.44 289.56 L373.12 289.10 L373.84 288.64 L374.61 288.18 L375.40 287.71 L376.20 287.25 L377.00 286.79 L377.79 286.32 L378.56 285.86 L379.28 285.40 L379.96 284.94 L380.58 284.48 L381.13 284.01 L381.60 283.55 L381.99 283.09 L382.29 282.62 L382.49 282.16 L382.59 281.70 L382.59 281.24 L382.49 280.77 L382.29 280.31 L381.99 279.85 L381.60 279.39 L381.13 278.93 L380.58 278.46 L379.96 278.00 L379.28 277.54 L378.56 277.07 L377.79 276.61 L377.00 276.15 L376.20 275.69 L375.40 275.23 L374.61 274.76 L373.84 274.30 L373.12 273.84 L372.44 273.38 L371.82 272.91 L371.27 272.45 L370.80 271.99 L370.41 271.52 L370.11 271.06 L369.91 270.60 L369.81 270.14 L369.81 269.68 L369.91 269.21 L370.11 268.75 L370.41 268.29 L370.80 267.82 L371.27 267.36 L371.82 266.90 L372.44 266.44 L373.12 265.98 L373.84 265.51 L374.61 265.05 L375.40 264.59 L376.20 264.12 L377.00 263.66 L377.79 263.20 L378.56 262.74 L379.28 262.27 L379.96 261.81 L380.58 261.35 L381.13 260.89 L381.60 260.43 L381.99 259.96 L382.29 259.50 L382.49 259.04 L382.59 258.57 L382.59 258.11 L382.49 257.65 L382.29 257.19 L381.99 256.73 L381.60 256.26 L381.13 255.80 L380.58 255.34 L379.96 254.88 L379.28 254.41 L378.56 253.95 L377.79 253.49 L377.00 253.03 L376.20 252.56 L375.40 252.10 L374.61 251.64 L373.84 251.18 L373.12 250.71 L372.44 250.25 L371.82 249.79 L371.27 249.32 L370.80 248.86 L370.41 248.40 L370.11 247.94 L369.91 247.47 L369.81 247.01 L369.81 246.55 L369.91 246.09 L370.11 245.62 L370.41 245.16 L370.80 244.70 L371.27 244.24 L371.82 243.78 L372.44 243.31 L373.12 242.85 L373.84 242.39 L374.61 241.93 L375.40 241.46 L376.20 241.00 L377.00 240.54 L377.79 240.07 L378.56 239.61 L379.28 239.15 L379.96 238.69 L380.58 238.22 L381.13 237.76 L381.60 237.30 L381.99 236.84 L382.29 236.38 L382.49 235.91 L382.59 235.45 L382.59 234.99 L382.49 234.52 L382.29 234.06 L381.99 233.60 L381.60 233.14 L381.13 232.68 L380.58 232.21 L379.96 231.75 L379.28 231.29 L378.56 230.82 L377.79 230.36 L377.00 229.90 L376.20 229.44 L375.40 228.98 L374.61 228.51 L373.84 228.05 L373.12 227.59 L372.44 227.12 L371.82 226.66 L371.27 226.20 L370.80 225.74 L370.41 225.28 L370.11 224.81 L369.91 224.35 L369.81 223.89 L369.81 223.43 L369.91 222.96 L370.11 222.50 L370.41 222.04 L370.80 221.57 L371.27 221.11 L371.82 220.65 L372.44 220.19 L373.12 219.73 L373.84 219.26 L374.61 218.80 L375.40 218.34 L376.20 217.88 L377.00 217.41 L377.79 216.95 L378.56 216.49 L379.28 216.02 L379.96 215.56 L380.58 215.10 L381.13 214.64 L381.60 214.18 L381.99 213.71 L382.29 213.25 L382.49 212.79 L382.59 212.32 L382.59 211.86 L382.49 211.40 L382.29 210.94 L381.99 210.47 L381.60 210.01 L381.13 209.55 L380.58 209.09 L379.96 208.62 L379.28 208.16 L378.56 207.70 L377.79 207.24 L377.00 206.77 L376.20 206.31 L375.40 205.85 L374.61 205.39 L373.84 204.93 L373.12 204.46 L372.44 204.00 L371.82 203.54 L371.27 203.08 L370.80 202.61 L370.41 202.15 L370.11 201.69 L369.91 201.22 L369.81 200.76 L369.81 200.30 L369.91 199.84 L370.11 199.38 L370.41 198.91 L370.80 198.45 L371.27 197.99 L371.82 197.53 L372.44 197.06 L373.12 196.60 L373.84 196.14 L374.61 195.68 L375.40 195.21 L376.20 194.75 L377.00 194.29 L377.79 193.82 L378.56 193.36 L379.28 192.90 L379.96 192.44 L380.58 191.97 L381.13 191.51 L381.60 191.05 L381.99 190.59 L382.29 190.12 L382.49 189.66 L382.59 189.20 L382.59 188.74 L382.49 188.28 L382.29 187.81 L381.99 187.35 L381.60 186.89 L381.13 186.42 L380.58 185.96 L379.96 185.50 L379.28 185.04 L378.56 184.57 L377.79 184.11 L377.00 183.65 L376.20 183.19 L375.40 182.73 L374.61 182.26 L373.84 181.80 L373.12 181.34 L372.44 180.88 L371.82 180.41 L371.27 179.95 L370.80 179.49 L370.41 179.03 L370.11 178.56 L369.91 178.10 L369.81 177.64 L369.81 177.18 L369.91 176.71 L370.11 176.25 L370.41 175.79 L370.80 175.33 L371.27 174.86 L371.82 174.40 L372.44 173.94 L373.12 173.47 L373.84 173.01 L374.61 172.55 L375.40 172.09 L376.20 171.62 L377.00 171.16 L377.79 170.70 L378.56 170.24 L379.28 169.78 L379.96 169.31 L380.58 168.85 L381.13 168.39 L381.60 167.92 L381.99 167.46 L382.29 167.00 L382.49 166.54 L382.59 166.07 L382.59 165.61 L382.49 165.15 L382.29 164.69 L381.99 164.22 L381.60 163.76 L381.13 163.30 L380.58 162.84 L379.96 162.38 L379.28 161.91 L378.56 161.45 L377.79 160.99 L377.00 160.52 L376.20 160.06 L375.40 159.60 L374.61 159.14 L373.84 158.68 L373.12 158.21 L372.44 157.75 L371.82 157.29 L371.27 156.83 L370.80 156.36 L370.41 155.90 L370.11 155.44 L369.91 154.97 L369.81 154.51 L369.81 154.05 L369.91 153.59 L370.11 153.12 L370.41 152.66 L370.80 152.20 L371.27 151.74 L371.82 151.28 L372.44 150.81 L373.12 150.35 L373.84 149.89 L374.61 149.43 L375.40 148.96 L376.20 148.50 L376.20 142.00" stroke="#1e1ed8" stroke-width="2.3" fill="none" stroke-linejoin="round"/><path d="M371.2 142.8L376.2 127.6L381.2 142.8Z" fill="#1e1ed8"/>
<path d="M967.80 333.50 L968.60 333.04 L969.39 332.57 L970.16 332.11 L970.88 331.65 L971.56 331.19 L972.18 330.73 L972.73 330.26 L973.20 329.80 L973.59 329.34 L973.89 328.88 L974.09 328.41 L974.19 327.95 L974.19 327.49 L974.09 327.02 L973.89 326.56 L973.59 326.10 L973.20 325.64 L972.73 325.18 L972.18 324.71 L971.56 324.25 L970.88 323.79 L970.16 323.32 L969.39 322.86 L968.60 322.40 L967.80 321.94 L967.00 321.48 L966.21 321.01 L965.44 320.55 L964.72 320.09 L964.04 319.62 L963.42 319.16 L962.87 318.70 L962.40 318.24 L962.01 317.77 L961.71 317.31 L961.51 316.85 L961.41 316.39 L961.41 315.93 L961.51 315.46 L961.71 315.00 L962.01 314.54 L962.40 314.07 L962.87 313.61 L963.42 313.15 L964.04 312.69 L964.72 312.23 L965.44 311.76 L966.21 311.30 L967.00 310.84 L967.80 310.38 L968.60 309.91 L969.39 309.45 L970.16 308.99 L970.88 308.52 L971.56 308.06 L972.18 307.60 L972.73 307.14 L973.20 306.68 L973.59 306.21 L973.89 305.75 L974.09 305.29 L974.19 304.82 L974.19 304.36 L974.09 303.90 L973.89 303.44 L973.59 302.98 L973.20 302.51 L972.73 302.05 L972.18 301.59 L971.56 301.12 L970.88 300.66 L970.16 300.20 L969.39 299.74 L968.60 299.27 L967.80 298.81 L967.00 298.35 L966.21 297.89 L965.44 297.43 L964.72 296.96 L964.04 296.50 L963.42 296.04 L962.87 295.57 L962.40 295.11 L962.01 294.65 L961.71 294.19 L961.51 293.73 L961.41 293.26 L961.41 292.80 L961.51 292.34 L961.71 291.88 L962.01 291.41 L962.40 290.95 L962.87 290.49 L963.42 290.02 L964.04 289.56 L964.72 289.10 L965.44 288.64 L966.21 288.18 L967.00 287.71 L967.80 287.25 L968.60 286.79 L969.39 286.32 L970.16 285.86 L970.88 285.40 L971.56 284.94 L972.18 284.48 L972.73 284.01 L973.20 283.55 L973.59 283.09 L973.89 282.62 L974.09 282.16 L974.19 281.70 L974.19 281.24 L974.09 280.77 L973.89 280.31 L973.59 279.85 L973.20 279.39 L972.73 278.93 L972.18 278.46 L971.56 278.00 L970.88 277.54 L970.16 277.07 L969.39 276.61 L968.60 276.15 L967.80 275.69 L967.00 275.23 L966.21 274.76 L965.44 274.30 L964.72 273.84 L964.04 273.38 L963.42 272.91 L962.87 272.45 L962.40 271.99 L962.01 271.52 L961.71 271.06 L961.51 270.60 L961.41 270.14 L961.41 269.68 L961.51 269.21 L961.71 268.75 L962.01 268.29 L962.40 267.82 L962.87 267.36 L963.42 266.90 L964.04 266.44 L964.72 265.98 L965.44 265.51 L966.21 265.05 L967.00 264.59 L967.80 264.12 L968.60 263.66 L969.39 263.20 L970.16 262.74 L970.88 262.27 L971.56 261.81 L972.18 261.35 L972.73 260.89 L973.20 260.43 L973.59 259.96 L973.89 259.50 L974.09 259.04 L974.19 258.57 L974.19 258.11 L974.09 257.65 L973.89 257.19 L973.59 256.73 L973.20 256.26 L972.73 255.80 L972.18 255.34 L971.56 254.88 L970.88 254.41 L970.16 253.95 L969.39 253.49 L968.60 253.03 L967.80 252.56 L967.00 252.10 L966.21 251.64 L965.44 251.18 L964.72 250.71 L964.04 250.25 L963.42 249.79 L962.87 249.32 L962.40 248.86 L962.01 248.40 L961.71 247.94 L961.51 247.47 L961.41 247.01 L961.41 246.55 L961.51 246.09 L961.71 245.62 L962.01 245.16 L962.40 244.70 L962.87 244.24 L963.42 243.78 L964.04 243.31 L964.72 242.85 L965.44 242.39 L966.21 241.93 L967.00 241.46 L967.80 241.00 L968.60 240.54 L969.39 240.07 L970.16 239.61 L970.88 239.15 L971.56 238.69 L972.18 238.22 L972.73 237.76 L973.20 237.30 L973.59 236.84 L973.89 236.38 L974.09 235.91 L974.19 235.45 L974.19 234.99 L974.09 234.52 L973.89 234.06 L973.59 233.60 L973.20 233.14 L972.73 232.68 L972.18 232.21 L971.56 231.75 L970.88 231.29 L970.16 230.82 L969.39 230.36 L968.60 229.90 L967.80 229.44 L967.00 228.98 L966.21 228.51 L965.44 228.05 L964.72 227.59 L964.04 227.12 L963.42 226.66 L962.87 226.20 L962.40 225.74 L962.01 225.28 L961.71 224.81 L961.51 224.35 L961.41 223.89 L961.41 223.43 L961.51 222.96 L961.71 222.50 L962.01 222.04 L962.40 221.57 L962.87 221.11 L963.42 220.65 L964.04 220.19 L964.72 219.73 L965.44 219.26 L966.21 218.80 L967.00 218.34 L967.80 217.88 L968.60 217.41 L969.39 216.95 L970.16 216.49 L970.88 216.02 L971.56 215.56 L972.18 215.10 L972.73 214.64 L973.20 214.18 L973.59 213.71 L973.89 213.25 L974.09 212.79 L974.19 212.32 L974.19 211.86 L974.09 211.40 L973.89 210.94 L973.59 210.47 L973.20 210.01 L972.73 209.55 L972.18 209.09 L971.56 208.62 L970.88 208.16 L970.16 207.70 L969.39 207.24 L968.60 206.77 L967.80 206.31 L967.00 205.85 L966.21 205.39 L965.44 204.93 L964.72 204.46 L964.04 204.00 L963.42 203.54 L962.87 203.08 L962.40 202.61 L962.01 202.15 L961.71 201.69 L961.51 201.22 L961.41 200.76 L961.41 200.30 L961.51 199.84 L961.71 199.38 L962.01 198.91 L962.40 198.45 L962.87 197.99 L963.42 197.53 L964.04 197.06 L964.72 196.60 L965.44 196.14 L966.21 195.68 L967.00 195.21 L967.80 194.75 L968.60 194.29 L969.39 193.82 L970.16 193.36 L970.88 192.90 L971.56 192.44 L972.18 191.97 L972.73 191.51 L973.20 191.05 L973.59 190.59 L973.89 190.12 L974.09 189.66 L974.19 189.20 L974.19 188.74 L974.09 188.28 L973.89 187.81 L973.59 187.35 L973.20 186.89 L972.73 186.42 L972.18 185.96 L971.56 185.50 L970.88 185.04 L970.16 184.57 L969.39 184.11 L968.60 183.65 L967.80 183.19 L967.00 182.73 L966.21 182.26 L965.44 181.80 L964.72 181.34 L964.04 180.88 L963.42 180.41 L962.87 179.95 L962.40 179.49 L962.01 179.03 L961.71 178.56 L961.51 178.10 L961.41 177.64 L961.41 177.18 L961.51 176.71 L961.71 176.25 L962.01 175.79 L962.40 175.33 L962.87 174.86 L963.42 174.40 L964.04 173.94 L964.72 173.47 L965.44 173.01 L966.21 172.55 L967.00 172.09 L967.80 171.62 L968.60 171.16 L969.39 170.70 L970.16 170.24 L970.88 169.78 L971.56 169.31 L972.18 168.85 L972.73 168.39 L973.20 167.92 L973.59 167.46 L973.89 167.00 L974.09 166.54 L974.19 166.07 L974.19 165.61 L974.09 165.15 L973.89 164.69 L973.59 164.22 L973.20 163.76 L972.73 163.30 L972.18 162.84 L971.56 162.38 L970.88 161.91 L970.16 161.45 L969.39 160.99 L968.60 160.52 L967.80 160.06 L967.00 159.60 L966.21 159.14 L965.44 158.68 L964.72 158.21 L964.04 157.75 L963.42 157.29 L962.87 156.83 L962.40 156.36 L962.01 155.90 L961.71 155.44 L961.51 154.97 L961.41 154.51 L961.41 154.05 L961.51 153.59 L961.71 153.12 L962.01 152.66 L962.40 152.20 L962.87 151.74 L963.42 151.28 L964.04 150.81 L964.72 150.35 L965.44 149.89 L966.21 149.43 L967.00 148.96 L967.80 148.50 L967.80 142.00" stroke="#1e1ed8" stroke-width="2.3" fill="none" stroke-linejoin="round"/><path d="M962.8 142.8L967.8 127.6L972.8 142.8Z" fill="#1e1ed8"/>
<path d="M376.20 925.30 L377.00 924.84 L377.79 924.38 L378.56 923.91 L379.28 923.45 L379.96 922.99 L380.58 922.52 L381.13 922.06 L381.60 921.60 L381.99 921.14 L382.29 920.67 L382.49 920.21 L382.59 919.75 L382.59 919.29 L382.49 918.82 L382.29 918.36 L381.99 917.90 L381.60 917.44 L381.13 916.97 L380.58 916.51 L379.96 916.05 L379.28 915.59 L378.56 915.12 L377.79 914.66 L377.00 914.20 L376.20 913.74 L375.40 913.27 L374.61 912.81 L373.84 912.35 L373.12 911.89 L372.44 911.42 L371.82 910.96 L371.27 910.50 L370.80 910.04 L370.41 909.57 L370.11 909.11 L369.91 908.65 L369.81 908.19 L369.81 907.72 L369.91 907.26 L370.11 906.80 L370.41 906.34 L370.80 905.88 L371.27 905.41 L371.82 904.95 L372.44 904.49 L373.12 904.02 L373.84 903.56 L374.61 903.10 L375.40 902.64 L376.20 902.17 L377.00 901.71 L377.79 901.25 L378.56 900.79 L379.28 900.32 L379.96 899.86 L380.58 899.40 L381.13 898.94 L381.60 898.47 L381.99 898.01 L382.29 897.55 L382.49 897.09 L382.59 896.62 L382.59 896.16 L382.49 895.70 L382.29 895.24 L381.99 894.77 L381.60 894.31 L381.13 893.85 L380.58 893.39 L379.96 892.92 L379.28 892.46 L378.56 892.00 L377.79 891.54 L377.00 891.07 L376.20 890.61 L375.40 890.15 L374.61 889.69 L373.84 889.22 L373.12 888.76 L372.44 888.30 L371.82 887.84 L371.27 887.38 L370.80 886.91 L370.41 886.45 L370.11 885.99 L369.91 885.52 L369.81 885.06 L369.81 884.60 L369.91 884.14 L370.11 883.67 L370.41 883.21 L370.80 882.75 L371.27 882.29 L371.82 881.82 L372.44 881.36 L373.12 880.90 L373.84 880.44 L374.61 879.97 L375.40 879.51 L376.20 879.05 L377.00 878.59 L377.79 878.12 L378.56 877.66 L379.28 877.20 L379.96 876.74 L380.58 876.27 L381.13 875.81 L381.60 875.35 L381.99 874.89 L382.29 874.42 L382.49 873.96 L382.59 873.50 L382.59 873.04 L382.49 872.57 L382.29 872.11 L381.99 871.65 L381.60 871.19 L381.13 870.72 L380.58 870.26 L379.96 869.80 L379.28 869.34 L378.56 868.88 L377.79 868.41 L377.00 867.95 L376.20 867.49 L375.40 867.02 L374.61 866.56 L373.84 866.10 L373.12 865.64 L372.44 865.17 L371.82 864.71 L371.27 864.25 L370.80 863.79 L370.41 863.32 L370.11 862.86 L369.91 862.40 L369.81 861.94 L369.81 861.47 L369.91 861.01 L370.11 860.55 L370.41 860.09 L370.80 859.62 L371.27 859.16 L371.82 858.70 L372.44 858.24 L373.12 857.77 L373.84 857.31 L374.61 856.85 L375.40 856.39 L376.20 855.92 L377.00 855.46 L377.79 855.00 L378.56 854.54 L379.28 854.07 L379.96 853.61 L380.58 853.15 L381.13 852.69 L381.60 852.22 L381.99 851.76 L382.29 851.30 L382.49 850.84 L382.59 850.38 L382.59 849.91 L382.49 849.45 L382.29 848.99 L381.99 848.52 L381.60 848.06 L381.13 847.60 L380.58 847.14 L379.96 846.67 L379.28 846.21 L378.56 845.75 L377.79 845.29 L377.00 844.82 L376.20 844.36 L375.40 843.90 L374.61 843.44 L373.84 842.97 L373.12 842.51 L372.44 842.05 L371.82 841.59 L371.27 841.12 L370.80 840.66 L370.41 840.20 L370.11 839.74 L369.91 839.27 L369.81 838.81 L369.81 838.35 L369.91 837.89 L370.11 837.42 L370.41 836.96 L370.80 836.50 L371.27 836.04 L371.82 835.57 L372.44 835.11 L373.12 834.65 L373.84 834.19 L374.61 833.72 L375.40 833.26 L376.20 832.80 L377.00 832.34 L377.79 831.88 L378.56 831.41 L379.28 830.95 L379.96 830.49 L380.58 830.02 L381.13 829.56 L381.60 829.10 L381.99 828.64 L382.29 828.17 L382.49 827.71 L382.59 827.25 L382.59 826.79 L382.49 826.32 L382.29 825.86 L381.99 825.40 L381.60 824.94 L381.13 824.47 L380.58 824.01 L379.96 823.55 L379.28 823.09 L378.56 822.62 L377.79 822.16 L377.00 821.70 L376.20 821.24 L375.40 820.77 L374.61 820.31 L373.84 819.85 L373.12 819.39 L372.44 818.92 L371.82 818.46 L371.27 818.00 L370.80 817.54 L370.41 817.07 L370.11 816.61 L369.91 816.15 L369.81 815.69 L369.81 815.22 L369.91 814.76 L370.11 814.30 L370.41 813.84 L370.80 813.38 L371.27 812.91 L371.82 812.45 L372.44 811.99 L373.12 811.52 L373.84 811.06 L374.61 810.60 L375.40 810.14 L376.20 809.67 L377.00 809.21 L377.79 808.75 L378.56 808.29 L379.28 807.82 L379.96 807.36 L380.58 806.90 L381.13 806.44 L381.60 805.97 L381.99 805.51 L382.29 805.05 L382.49 804.59 L382.59 804.12 L382.59 803.66 L382.49 803.20 L382.29 802.74 L381.99 802.27 L381.60 801.81 L381.13 801.35 L380.58 800.89 L379.96 800.42 L379.28 799.96 L378.56 799.50 L377.79 799.04 L377.00 798.57 L376.20 798.11 L375.40 797.65 L374.61 797.19 L373.84 796.72 L373.12 796.26 L372.44 795.80 L371.82 795.34 L371.27 794.88 L370.80 794.41 L370.41 793.95 L370.11 793.49 L369.91 793.02 L369.81 792.56 L369.81 792.10 L369.91 791.64 L370.11 791.17 L370.41 790.71 L370.80 790.25 L371.27 789.79 L371.82 789.32 L372.44 788.86 L373.12 788.40 L373.84 787.94 L374.61 787.47 L375.40 787.01 L376.20 786.55 L377.00 786.09 L377.79 785.62 L378.56 785.16 L379.28 784.70 L379.96 784.24 L380.58 783.77 L381.13 783.31 L381.60 782.85 L381.99 782.39 L382.29 781.92 L382.49 781.46 L382.59 781.00 L382.59 780.54 L382.49 780.07 L382.29 779.61 L381.99 779.15 L381.60 778.69 L381.13 778.22 L380.58 777.76 L379.96 777.30 L379.28 776.84 L378.56 776.38 L377.79 775.91 L377.00 775.45 L376.20 774.99 L375.40 774.52 L374.61 774.06 L373.84 773.60 L373.12 773.14 L372.44 772.67 L371.82 772.21 L371.27 771.75 L370.80 771.29 L370.41 770.82 L370.11 770.36 L369.91 769.90 L369.81 769.44 L369.81 768.97 L369.91 768.51 L370.11 768.05 L370.41 767.59 L370.80 767.12 L371.27 766.66 L371.82 766.20 L372.44 765.74 L373.12 765.27 L373.84 764.81 L374.61 764.35 L375.40 763.89 L376.20 763.42 L377.00 762.96 L377.79 762.50 L378.56 762.04 L379.28 761.57 L379.96 761.11 L380.58 760.65 L381.13 760.19 L381.60 759.72 L381.99 759.26 L382.29 758.80 L382.49 758.34 L382.59 757.88 L382.59 757.41 L382.49 756.95 L382.29 756.49 L381.99 756.02 L381.60 755.56 L381.13 755.10 L380.58 754.64 L379.96 754.17 L379.28 753.71 L378.56 753.25 L377.79 752.79 L377.00 752.32 L376.20 751.86 L375.40 751.40 L374.61 750.94 L373.84 750.47 L373.12 750.01 L372.44 749.55 L371.82 749.09 L371.27 748.62 L370.80 748.16 L370.41 747.70 L370.11 747.24 L369.91 746.77 L369.81 746.31 L369.81 745.85 L369.91 745.39 L370.11 744.92 L370.41 744.46 L370.80 744.00 L371.27 743.54 L371.82 743.07 L372.44 742.61 L373.12 742.15 L373.84 741.69 L374.61 741.22 L375.40 740.76 L376.20 740.30 L376.20 733.80" stroke="#1e1ed8" stroke-width="2.3" fill="none" stroke-linejoin="round"/><path d="M371.2 734.6L376.2 719.4L381.2 734.6Z" fill="#1e1ed8"/>
<path d="M967.80 925.30 L968.60 924.84 L969.39 924.38 L970.16 923.91 L970.88 923.45 L971.56 922.99 L972.18 922.52 L972.73 922.06 L973.20 921.60 L973.59 921.14 L973.89 920.67 L974.09 920.21 L974.19 919.75 L974.19 919.29 L974.09 918.82 L973.89 918.36 L973.59 917.90 L973.20 917.44 L972.73 916.97 L972.18 916.51 L971.56 916.05 L970.88 915.59 L970.16 915.12 L969.39 914.66 L968.60 914.20 L967.80 913.74 L967.00 913.27 L966.21 912.81 L965.44 912.35 L964.72 911.89 L964.04 911.42 L963.42 910.96 L962.87 910.50 L962.40 910.04 L962.01 909.57 L961.71 909.11 L961.51 908.65 L961.41 908.19 L961.41 907.72 L961.51 907.26 L961.71 906.80 L962.01 906.34 L962.40 905.88 L962.87 905.41 L963.42 904.95 L964.04 904.49 L964.72 904.02 L965.44 903.56 L966.21 903.10 L967.00 902.64 L967.80 902.17 L968.60 901.71 L969.39 901.25 L970.16 900.79 L970.88 900.32 L971.56 899.86 L972.18 899.40 L972.73 898.94 L973.20 898.47 L973.59 898.01 L973.89 897.55 L974.09 897.09 L974.19 896.62 L974.19 896.16 L974.09 895.70 L973.89 895.24 L973.59 894.77 L973.20 894.31 L972.73 893.85 L972.18 893.39 L971.56 892.92 L970.88 892.46 L970.16 892.00 L969.39 891.54 L968.60 891.07 L967.80 890.61 L967.00 890.15 L966.21 889.69 L965.44 889.22 L964.72 888.76 L964.04 888.30 L963.42 887.84 L962.87 887.38 L962.40 886.91 L962.01 886.45 L961.71 885.99 L961.51 885.52 L961.41 885.06 L961.41 884.60 L961.51 884.14 L961.71 883.67 L962.01 883.21 L962.40 882.75 L962.87 882.29 L963.42 881.82 L964.04 881.36 L964.72 880.90 L965.44 880.44 L966.21 879.97 L967.00 879.51 L967.80 879.05 L968.60 878.59 L969.39 878.12 L970.16 877.66 L970.88 877.20 L971.56 876.74 L972.18 876.27 L972.73 875.81 L973.20 875.35 L973.59 874.89 L973.89 874.42 L974.09 873.96 L974.19 873.50 L974.19 873.04 L974.09 872.57 L973.89 872.11 L973.59 871.65 L973.20 871.19 L972.73 870.72 L972.18 870.26 L971.56 869.80 L970.88 869.34 L970.16 868.88 L969.39 868.41 L968.60 867.95 L967.80 867.49 L967.00 867.02 L966.21 866.56 L965.44 866.10 L964.72 865.64 L964.04 865.17 L963.42 864.71 L962.87 864.25 L962.40 863.79 L962.01 863.32 L961.71 862.86 L961.51 862.40 L961.41 861.94 L961.41 861.47 L961.51 861.01 L961.71 860.55 L962.01 860.09 L962.40 859.62 L962.87 859.16 L963.42 858.70 L964.04 858.24 L964.72 857.77 L965.44 857.31 L966.21 856.85 L967.00 856.39 L967.80 855.92 L968.60 855.46 L969.39 855.00 L970.16 854.54 L970.88 854.07 L971.56 853.61 L972.18 853.15 L972.73 852.69 L973.20 852.22 L973.59 851.76 L973.89 851.30 L974.09 850.84 L974.19 850.38 L974.19 849.91 L974.09 849.45 L973.89 848.99 L973.59 848.52 L973.20 848.06 L972.73 847.60 L972.18 847.14 L971.56 846.67 L970.88 846.21 L970.16 845.75 L969.39 845.29 L968.60 844.82 L967.80 844.36 L967.00 843.90 L966.21 843.44 L965.44 842.97 L964.72 842.51 L964.04 842.05 L963.42 841.59 L962.87 841.12 L962.40 840.66 L962.01 840.20 L961.71 839.74 L961.51 839.27 L961.41 838.81 L961.41 838.35 L961.51 837.89 L961.71 837.42 L962.01 836.96 L962.40 836.50 L962.87 836.04 L963.42 835.57 L964.04 835.11 L964.72 834.65 L965.44 834.19 L966.21 833.72 L967.00 833.26 L967.80 832.80 L968.60 832.34 L969.39 831.88 L970.16 831.41 L970.88 830.95 L971.56 830.49 L972.18 830.02 L972.73 829.56 L973.20 829.10 L973.59 828.64 L973.89 828.17 L974.09 827.71 L974.19 827.25 L974.19 826.79 L974.09 826.32 L973.89 825.86 L973.59 825.40 L973.20 824.94 L972.73 824.47 L972.18 824.01 L971.56 823.55 L970.88 823.09 L970.16 822.62 L969.39 822.16 L968.60 821.70 L967.80 821.24 L967.00 820.77 L966.21 820.31 L965.44 819.85 L964.72 819.39 L964.04 818.92 L963.42 818.46 L962.87 818.00 L962.40 817.54 L962.01 817.07 L961.71 816.61 L961.51 816.15 L961.41 815.69 L961.41 815.22 L961.51 814.76 L961.71 814.30 L962.01 813.84 L962.40 813.38 L962.87 812.91 L963.42 812.45 L964.04 811.99 L964.72 811.52 L965.44 811.06 L966.21 810.60 L967.00 810.14 L967.80 809.67 L968.60 809.21 L969.39 808.75 L970.16 808.29 L970.88 807.82 L971.56 807.36 L972.18 806.90 L972.73 806.44 L973.20 805.97 L973.59 805.51 L973.89 805.05 L974.09 804.59 L974.19 804.12 L974.19 803.66 L974.09 803.20 L973.89 802.74 L973.59 802.27 L973.20 801.81 L972.73 801.35 L972.18 800.89 L971.56 800.42 L970.88 799.96 L970.16 799.50 L969.39 799.04 L968.60 798.57 L967.80 798.11 L967.00 797.65 L966.21 797.19 L965.44 796.72 L964.72 796.26 L964.04 795.80 L963.42 795.34 L962.87 794.88 L962.40 794.41 L962.01 793.95 L961.71 793.49 L961.51 793.02 L961.41 792.56 L961.41 792.10 L961.51 791.64 L961.71 791.17 L962.01 790.71 L962.40 790.25 L962.87 789.79 L963.42 789.32 L964.04 788.86 L964.72 788.40 L965.44 787.94 L966.21 787.47 L967.00 787.01 L967.80 786.55 L968.60 786.09 L969.39 785.62 L970.16 785.16 L970.88 784.70 L971.56 784.24 L972.18 783.77 L972.73 783.31 L973.20 782.85 L973.59 782.39 L973.89 781.92 L974.09 781.46 L974.19 781.00 L974.19 780.54 L974.09 780.07 L973.89 779.61 L973.59 779.15 L973.20 778.69 L972.73 778.22 L972.18 777.76 L971.56 777.30 L970.88 776.84 L970.16 776.38 L969.39 775.91 L968.60 775.45 L967.80 774.99 L967.00 774.52 L966.21 774.06 L965.44 773.60 L964.72 773.14 L964.04 772.67 L963.42 772.21 L962.87 771.75 L962.40 771.29 L962.01 770.82 L961.71 770.36 L961.51 769.90 L961.41 769.44 L961.41 768.97 L961.51 768.51 L961.71 768.05 L962.01 767.59 L962.40 767.12 L962.87 766.66 L963.42 766.20 L964.04 765.74 L964.72 765.27 L965.44 764.81 L966.21 764.35 L967.00 763.89 L967.80 763.42 L968.60 762.96 L969.39 762.50 L970.16 762.04 L970.88 761.57 L971.56 761.11 L972.18 760.65 L972.73 760.19 L973.20 759.72 L973.59 759.26 L973.89 758.80 L974.09 758.34 L974.19 757.88 L974.19 757.41 L974.09 756.95 L973.89 756.49 L973.59 756.02 L973.20 755.56 L972.73 755.10 L972.18 754.64 L971.56 754.17 L970.88 753.71 L970.16 753.25 L969.39 752.79 L968.60 752.32 L967.80 751.86 L967.00 751.40 L966.21 750.94 L965.44 750.47 L964.72 750.01 L964.04 749.55 L963.42 749.09 L962.87 748.62 L962.40 748.16 L962.01 747.70 L961.71 747.24 L961.51 746.77 L961.41 746.31 L961.41 745.85 L961.51 745.39 L961.71 744.92 L962.01 744.46 L962.40 744.00 L962.87 743.54 L963.42 743.07 L964.04 742.61 L964.72 742.15 L965.44 741.69 L966.21 741.22 L967.00 740.76 L967.80 740.30 L967.80 733.80" stroke="#1e1ed8" stroke-width="2.3" fill="none" stroke-linejoin="round"/><path d="M962.8 734.6L967.8 719.4L972.8 734.6Z" fill="#1e1ed8"/>
<path d="M374.6 392.5L372.6 468.4" stroke="#000" stroke-width="4.3" fill="none"/><path d="M372.2 483.4L367.6 468.3L377.6 468.5Z" fill="#000"/>
<path d="M325.0 379.5L331.5 369.4L336.0 374.0Z" fill="#000"/>
<path d="M387.0 379.6L392.3 379.0L391.2 386.6Z" fill="#000"/>
<path d="M416.0 372.6L425.1 380.7" stroke="#000" stroke-width="4.3" fill="none"/><path d="M434.8 389.3L421.8 384.4L428.4 376.9Z" fill="#000"/>
<path d="M375.3 1087.0L375.9 1156.4" stroke="#000" stroke-width="4.6" fill="none"/><path d="M376.0 1171.4L370.5 1156.4L381.2 1156.4Z" fill="#000"/>
<path d="M371.4 1098.0L381.4 1098.0L376.4 1114.5Z" fill="#000"/>
<path d="M245.4 1042.3L253.0 1029.2L260.0 1036.1Z" fill="#000"/>
<path d="M408.3 1052.3L414.5 1050.7L414.5 1061.5Z" fill="#000"/>
<path d="M966.2 392.5L964.2 468.4" stroke="#000" stroke-width="4.3" fill="none"/><path d="M963.8 483.4L959.2 468.3L969.2 468.5Z" fill="#000"/>
<path d="M916.6 379.5L923.1 369.4L927.6 374.0Z" fill="#000"/>
<path d="M978.6 379.6L983.9 379.0L982.8 386.6Z" fill="#000"/>
<path d="M1007.6 372.6L1016.7 380.7" stroke="#000" stroke-width="4.3" fill="none"/><path d="M1026.4 389.3L1013.4 384.4L1020.0 376.9Z" fill="#000"/>
<path d="M966.9 1087.0L967.5 1156.4" stroke="#000" stroke-width="4.6" fill="none"/><path d="M967.6 1171.4L962.1 1156.4L972.8 1156.4Z" fill="#000"/>
<path d="M963.0 1098.0L973.0 1098.0L968.0 1114.5Z" fill="#000"/>
<path d="M837.0 1042.3L844.6 1029.2L851.6 1036.1Z" fill="#000"/>
<path d="M999.9 1052.3L1006.1 1050.7L1006.1 1061.5Z" fill="#000"/>
</svg></body></html>
